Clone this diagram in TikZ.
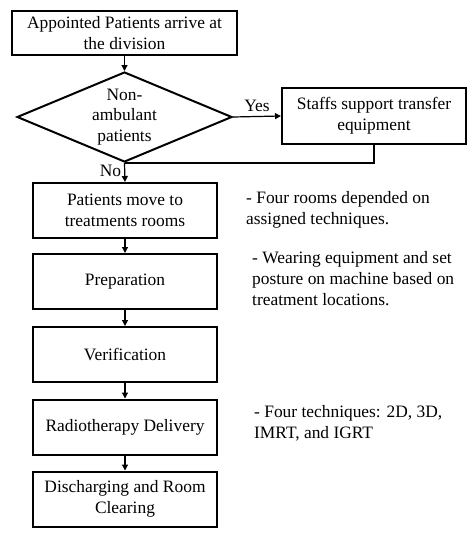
\documentclass[tikz,border=0pt]{standalone}
\usepackage{fontspec}
\setmainfont{Liberation Serif}
\usetikzlibrary{shapes.geometric,arrows.meta}
\begin{document}
\begin{tikzpicture}[x=1pt,y=-1pt,
  every node/.style={font=\fontsize{17.4}{21}\selectfont},
  box/.style={draw,line width=2pt,minimum width=184pt,minimum height=55pt,align=center,inner sep=0pt},
  dec/.style={draw,diamond,line width=2pt,minimum width=215pt,minimum height=90pt,inner sep=0pt},
  note/.style={align=left,anchor=base west,inner sep=0pt},
  arr/.style={line width=1.2pt,-{Triangle[length=6pt,width=6pt]}},
  ln/.style={line width=1.5pt}]
\useasboundingbox (0,0) rectangle (474,539);
\fill[white] (0,0) rectangle (474,539);
\node[box,minimum width=225pt,minimum height=44pt] (b1) at (124.5,33) {Appointed Patients arrive at\\the division};
\node[dec,label={[align=center,font=\fontsize{17.4}{20.5}\selectfont]center:Non-\\ambulant\\patients}] (d) at (124.5,117) {};
\node[box,minimum height=56pt] (b2) at (374,116) {Staffs support transfer\\equipment};
\node[box] (b3) at (125,210.5) {Patients move to\\treatments rooms};
\node[box] (b4) at (125,281.5) {Preparation};
\node[box] (b5) at (125,354.5) {Verification};
\node[box] (b6) at (125,427) {Radiotherapy Delivery};
\node[box] (b7) at (125,499) {Discharging and Room\\Clearing};
\draw[arr] (b1.south) -- (d.north);
\draw[arr] (d.east) -- node[above,inner sep=4pt] (yes) {Yes} (b2.west);
\draw[ln] (b2.south) -- (b2.south |- d.south) -- (d.south);
\draw[arr] (d.south) -- node[left,pos=0.4,inner sep=3pt] (no) {No} (b3.north);
\draw[arr] (b3.south) -- (b4.north);
\draw[arr] (b4.south) -- (b5.north);
\draw[arr] (b5.south) -- (b6.north);
\draw[arr] (b6.south) -- (b7.north);
\node[note] (t1) at (246,224) {- Four rooms depended on\\assigned techniques.};
\node[note] (t2) at (252,305) {- Wearing equipment and set\\posture on machine based on\\treatment locations.};
\node[note] (t3) at (254,438) {- Four techniques: 2D, 3D,\\IMRT, and IGRT};
\end{tikzpicture}
\end{document}
